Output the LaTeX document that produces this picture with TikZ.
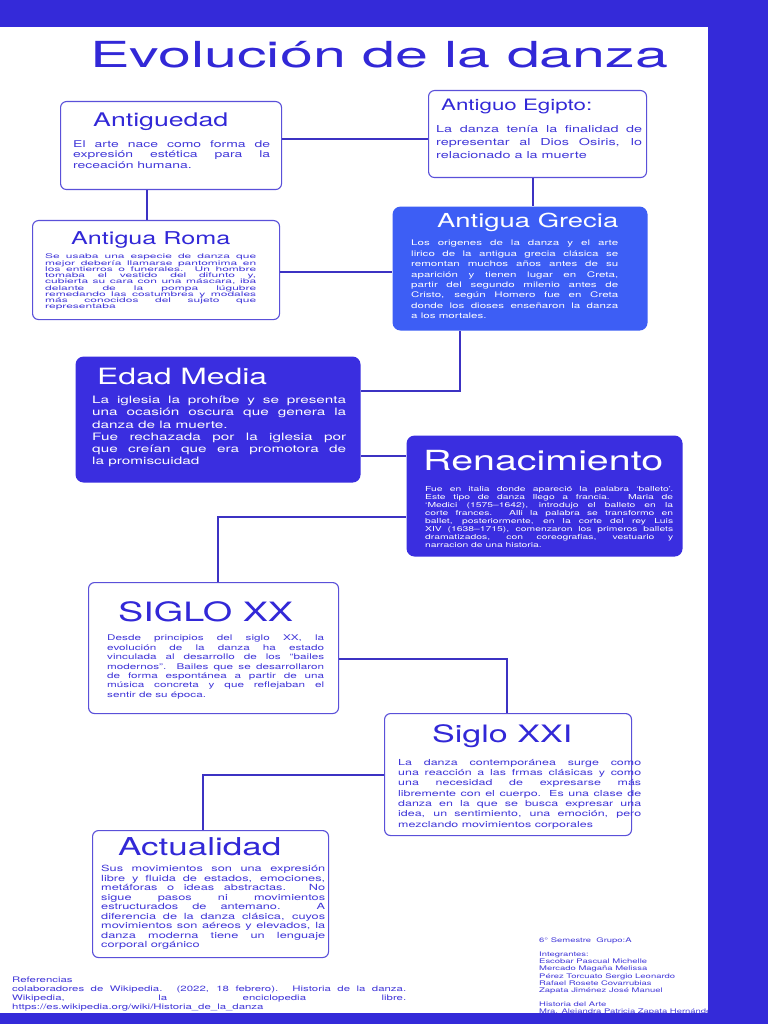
\documentclass[tikz,border=0pt]{standalone}
\usepackage{fontspec}
\setmainfont{TeX Gyre Heros}[FakeStretch=1.5]
\newfontfamily\ttlfont{TeX Gyre Heros}[FakeStretch=1.42]
\newfontfamily\bigttlfont{TeX Gyre Heros}[FakeStretch=1.65]
\definecolor{framecol}{RGB}{52,42,217}
\definecolor{titleblue}{RGB}{50,40,215}
\definecolor{textblue}{RGB}{64,54,216}
\definecolor{boxline}{RGB}{90,80,217}
\definecolor{lineblue}{RGB}{60,50,195}
\definecolor{grecol}{RGB}{61,94,245}
\definecolor{darkfill}{RGB}{58,46,224}
\tikzset{
  box/.style={draw=boxline, line width=1.1pt, rounded corners=6pt, fill=white, inner sep=0pt, anchor=north west},
  fillbox/.style={box, draw=none, fill=#1, rounded corners=8pt},
  conn/.style={draw=lineblue, line width=1.1pt},
  ttl/.style={anchor=west, inner sep=0pt, text=titleblue},
  wttl/.style={anchor=west, inner sep=0pt, text=white},
  body/.style={anchor=north west, inner sep=0pt, align=justify, text=textblue},
  wbody/.style={body, text=white},
  band/.style={fill=framecol, draw=none}
}
\newcommand{\tfit}[2]{\resizebox{#1pt}{!}{\ttlfont\fontsize{20}{20}\selectfont #2}}
\begin{document}
\begin{tikzpicture}[x=1pt,y=-1pt]
\useasboundingbox (0,0) rectangle (768,1024);
\fill[white] (0,0) rectangle (768,1024);

% boxes
\node[box, minimum width=221, minimum height=88] (antig) at (60,101) {};
\node[box, minimum width=218, minimum height=87] (egipto) at (428,90) {};
\node[box, minimum width=247, minimum height=99] (roma) at (32,220) {};
\node[fillbox=grecol, minimum width=255, minimum height=124] (grecia) at (392,206) {};
\node[fillbox=darkfill, minimum width=285, minimum height=126] (edad) at (75,356) {};
\node[fillbox=darkfill, minimum width=276, minimum height=121] (renac) at (406,435) {};
\node[box, minimum width=250, minimum height=131] (sxx) at (88,582) {};
\node[box, minimum width=247, minimum height=122] (sxxi) at (384,713) {};
\node[box, minimum width=236, minimum height=127] (actual) at (92,830) {};

% connectors
\draw[conn] (antig.east |- 0,139) -- (egipto.west |- 0,139);
\draw[conn] (antig.south -| 147,0) -- (roma.north -| 147,0);
\draw[conn] (roma.east |- 0,272) -- (grecia.west |- 0,272);
\draw[conn] (egipto.south -| 533,0) -- (grecia.north -| 533,0);
\draw[conn] (grecia.south -| 460,0) -- (460,391) -- (edad.east |- 0,391);
\draw[conn] (edad.east |- 0,456) -- (renac.west |- 0,456);
\draw[conn] (renac.west |- 0,517) -- (218,517) -- (sxx.north -| 218,0);
\draw[conn] (sxx.east |- 0,659) -- (507,659) -- (sxxi.north -| 507,0);
\draw[conn] (sxxi.west |- 0,775) -- (203,775) -- (actual.north -| 203,0);

% title
\node[ttl] (title) at (90,55) {\resizebox{578pt}{!}{\bigttlfont\fontsize{20}{20}\selectfont Evolución de la danza}};

% box titles
\node[ttl] (tantig) at (93,122) {\tfit{135}{Antiguedad}};
\node[ttl] (tegipto) at (441,106) {\tfit{151}{Antiguo Egipto:}};
\node[ttl] (troma) at (71,240) {\tfit{159}{Antigua Roma}};
\node[wttl] (tgrecia) at (437,222) {\tfit{181}{Antigua Grecia}};
\node[wttl] (tedad) at (97,376) {\tfit{170}{Edad Media}};
\node[wttl] (trenac) at (423,461) {\tfit{240}{Renacimiento}};
\node[ttl] (tsxx) at (118,612) {\tfit{175}{SIGLO XX}};
\node[ttl] (tsxxi) at (432,736) {\tfit{140}{Siglo XXI}};
\node[ttl] (tactual) at (118,847) {\tfit{163}{Actualidad}};

% bodies
\node[body, text width=197pt, font={\fontsize{9.3}{10.5}\selectfont}] (bantig) at (73,140)
{El arte nace como forma de\linebreak expresión estética para la\linebreak receación humana.};

\node[body, text width=206pt, font={\fontsize{9.6}{13}\selectfont}] (begipto) at (436,125)
{La danza tenía la finalidad de\linebreak representar al Dios Osiris, lo\linebreak relacionado a la muerte};

\node[anchor=north west, inner sep=0pt, text=textblue] (broma) at (45,254)
{\scalebox{1}[0.8]{\parbox[t]{211pt}{\fontsize{8}{7.8}\selectfont\lineskiplimit=-20pt
Se usaba una especie de danza que\linebreak mejor debería llamarse pantomima en\linebreak los entierros o funerales. Un hombre\linebreak tomaba el vestido del difunto y,\linebreak cubierta su cara con una máscara, iba\linebreak delante de la pompa lúgubre\linebreak remedando las costumbres y modales\linebreak más conocidos del sujeto que\linebreak representaba}}};

\node[wbody, text width=207pt, font={\fontsize{7.7}{10.4}\selectfont}] (bgrecia) at (411,240)
{Los origenes de la danza y el arte\linebreak lirico de la antigua grecia clásica se\linebreak remontan muchos años antes de su\linebreak aparición y tienen lugar en Creta,\linebreak partir del segundo milenio antes de\linebreak Cristo, según Homero fue en Creta\linebreak donde los dioses enseñaron la danza\linebreak a los mortales.};

\node[wbody, text width=254pt, font={\fontsize{10.2}{12.2}\selectfont}] (bedad) at (92,396)
{La iglesia la prohíbe y se presenta\linebreak una ocasión oscura que genera la\linebreak danza de la muerte.\\ Fue rechazada por la iglesia por\linebreak que creían que era promotora de\linebreak la promiscuidad};

\node[wbody, text width=248pt, font={\fontsize{6.9}{8.1}\selectfont}] (brenac) at (425,486)
{Fue en italia donde apareció la palabra `balleto'.\linebreak Este tipo de danza llego a francia. Maria de\linebreak `Medici (1575--1642), introdujo el balleto en la\linebreak corte frances. Alli la palabra se transformo en\linebreak ballet, posteriormente, en la corte del rey Luis\linebreak XIV (1638--1715), comenzaron los primeros ballets\linebreak dramatizados, con coreografias, vestuario y\linebreak narracion de una historia.};

\node[body, text width=217pt, font={\fontsize{7.8}{9.4}\selectfont}] (bsxx) at (107,635)
{Desde principios del siglo XX, la\linebreak evolución de la danza ha estado\linebreak vinculada al desarrollo de los ``bailes\linebreak modernos''. Bailes que se desarrollaron\linebreak de forma espontánea a partir de una\linebreak música concreta y que reflejaban el\linebreak sentir de su época.};

\node[body, text width=243pt, font={\fontsize{8.3}{10.3}\selectfont}] (bsxxi) at (398,759)
{La danza contemporánea surge como\linebreak una reacción a las frmas clásicas y como\linebreak una necesidad de expresarse más\linebreak libremente con el cuerpo. Es una clase de\linebreak danza en la que se busca expresar una\linebreak idea, un sentimiento, una emoción, pero\linebreak mezclando movimientos corporales};

\node[body, text width=224pt, font={\fontsize{8.5}{9.5}\selectfont}] (bactual) at (101,865)
{Sus movimientos son una expresión\linebreak libre y fluida de estados, emociones,\linebreak metáforas o ideas abstractas. No\linebreak sigue pasos ni movimientos\linebreak estructurados de antemano. A\linebreak diferencia de la danza clásica, cuyos\linebreak movimientos son aéreos y elevados, la\linebreak danza moderna tiene un lenguaje\linebreak corporal orgánico};

% credits
\node[anchor=north west, inner sep=0pt, align=left, text=textblue, font={\fontsize{6.3}{7.3}\selectfont}] (credits) at (539,938)
{6° Semestre\ \ Grupo:A\\[6pt]
Integrantes:\\
Escobar Pascual Michelle\\
Mercado Magaña Melissa\\
Pérez Torcuato Sergio Leonardo\\
Rafael Rosete Covarrubias\\
Zapata Jiménez José Manuel\\[6.5pt]
Historia del Arte\\
Mra. Alejandra Patricia Zapata Hernández};

% references
\node[body, text width=394pt, font={\fontsize{7.6}{9}\selectfont}] (refs) at (12,977)
{Referencias\\ colaboradores de Wikipedia. (2022, 18 febrero). Historia de la danza.\linebreak Wikipedia, la enciclopedia libre.\linebreak https://es.wikipedia.org/wiki/Historia\_de\_la\_danza};

% frame bands
\fill[band] (0,0) rectangle (768,27);
\fill[band] (708,0) rectangle (768,1024);
\fill[band] (0,1013) rectangle (768,1024);
\end{tikzpicture}
\end{document}
